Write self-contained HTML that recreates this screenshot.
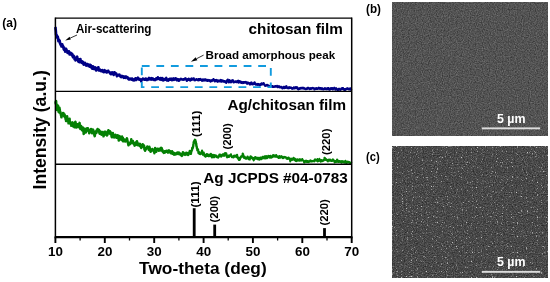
<!DOCTYPE html>
<html lang="en"><head><meta charset="utf-8"><title>XRD and SEM of chitosan films</title>
<style>html,body{margin:0;padding:0;background:#fff;overflow:hidden}svg{display:block}text{font-family:"Liberation Sans", Arial, Helvetica, sans-serif;font-weight:bold}</style></head><body>
<svg width="550" height="282" viewBox="0 0 550 282">
<defs>
<filter id="nb" x="0" y="0" width="100%" height="100%" color-interpolation-filters="sRGB">
<feTurbulence type="fractalNoise" baseFrequency="0.85" numOctaves="2" seed="3" result="t"/>
<feColorMatrix in="t" type="matrix" values="0.33 0 0 0 0.16  0.33 0 0 0 0.16  0.33 0 0 0 0.16  0 0 0 0 1"/>
</filter>
<filter id="nc" x="0" y="0" width="100%" height="100%" color-interpolation-filters="sRGB">
<feTurbulence type="fractalNoise" baseFrequency="0.9" numOctaves="2" seed="11" result="t"/>
<feColorMatrix in="t" type="matrix" values="0.36 0 0 0 0.1  0.36 0 0 0 0.1  0.36 0 0 0 0.1  0 0 0 0 1" result="g"/>
<feTurbulence type="fractalNoise" baseFrequency="0.8" numOctaves="1" seed="29" result="s"/>
<feColorMatrix in="s" type="matrix" values="0 0 0 0 0.78  0 0 0 0 0.78  0 0 0 0 0.78  6.5 0 0 0 -4.15" result="sp"/>
<feComposite in="sp" in2="g" operator="over"/>
</filter>
</defs>
<rect width="550" height="282" fill="#fff"/>
<rect x="392.3" y="2" width="154.9" height="133.2" fill="#555" filter="url(#nb)"/>
<rect x="392.3" y="146" width="154.9" height="131.2" fill="#444" filter="url(#nc)"/>
<rect x="481.8" y="127.4" width="58.4" height="1.9" fill="#dcdcdc"/>
<rect x="481.8" y="270.9" width="58.5" height="1.9" fill="#dcdcdc"/>
<text x="497" y="123.2" font-size="12.6" fill="#fff" textLength="28.6" lengthAdjust="spacingAndGlyphs">5 µm</text>
<text x="497" y="266.1" font-size="12.6" fill="#fff" textLength="28.6" lengthAdjust="spacingAndGlyphs">5 µm</text>
<text x="366" y="12.5" font-size="13.2" textLength="14.9" lengthAdjust="spacingAndGlyphs">(b)</text>
<text x="366" y="161" font-size="13.5" textLength="13.7" lengthAdjust="spacingAndGlyphs">(c)</text>
<text x="2.3" y="27.4" font-size="13.1" textLength="14.7" lengthAdjust="spacingAndGlyphs">(a)</text>
<path d="M55.40 27.0L55.57 28.8L55.73 30.2L55.90 32.1L56.07 34.6L56.23 35.2L56.40 36.1L56.57 35.1L56.73 36.8L56.90 35.4L57.07 36.0L57.23 37.7L57.40 37.9L57.57 37.5L57.73 36.7L57.90 37.8L58.07 38.1L58.23 39.5L58.40 41.1L58.57 40.2L58.73 39.9L58.90 39.8L59.07 40.7L59.23 40.7L59.40 40.2L59.57 41.2L59.73 40.8L59.90 42.8L60.07 43.3L60.23 43.8L60.40 43.3L60.57 44.5L60.73 44.7L60.90 45.1L61.07 45.6L61.23 45.6L61.40 45.2L61.57 46.5L61.73 45.6L61.90 45.6L62.07 45.9L62.23 44.3L62.40 45.1L62.57 45.9L62.73 46.2L62.90 45.9L63.07 47.3L63.23 47.3L63.40 46.8L63.57 47.5L63.73 49.1L63.90 49.0L64.07 47.7L64.23 49.9L64.40 49.6L64.57 50.3L64.73 49.3L64.90 49.5L65.07 49.1L65.23 51.6L65.40 50.0L65.57 51.0L65.73 49.6L65.90 50.0L66.07 48.8L66.23 49.5L66.40 50.8L66.57 49.8L66.73 51.6L66.90 51.6L67.07 51.1L67.23 51.8L67.40 52.2L67.57 52.8L67.73 52.8L67.90 53.0L68.07 53.0L68.23 52.3L68.40 51.8L68.57 52.2L68.73 52.5L68.90 51.4L69.07 52.7L69.23 52.7L69.40 52.9L69.57 54.3L69.73 53.3L69.90 54.4L70.07 52.8L70.23 53.3L70.40 52.8L70.57 52.8L70.73 53.9L70.90 53.7L71.07 54.4L71.23 54.3L71.40 53.7L71.57 54.3L71.73 54.5L71.90 55.0L72.07 53.9L72.23 54.9L72.40 54.4L72.57 56.4L72.73 55.8L72.90 55.9L73.07 56.8L73.23 57.4L73.40 55.7L73.57 55.9L73.73 56.0L73.90 56.2L74.07 57.6L74.23 57.4L74.40 57.9L74.57 59.1L74.73 58.4L74.90 59.2L75.07 58.5L75.23 58.4L75.40 58.1L75.57 60.3L75.73 59.1L75.90 59.4L76.07 59.3L76.23 59.5L76.40 59.0L76.57 59.7L76.73 57.5L76.90 56.8L77.07 56.7L77.23 57.1L77.40 58.8L77.57 59.4L77.73 58.9L77.90 59.2L78.07 60.0L78.23 61.2L78.40 59.0L78.57 61.1L78.73 60.4L78.90 61.7L79.07 60.7L79.23 61.2L79.40 60.7L79.57 61.1L79.73 62.2L79.90 61.6L80.07 60.6L80.23 60.1L80.40 59.2L80.57 60.4L80.73 60.9L80.90 61.2L81.07 61.5L81.23 61.2L81.40 61.8L81.57 61.8L81.73 62.5L81.90 62.8L82.07 61.7L82.23 61.4L82.40 61.9L82.57 61.7L82.73 61.8L82.90 62.3L83.07 62.2L83.23 63.6L83.40 63.7L83.57 64.3L83.73 64.6L83.90 64.0L84.07 63.5L84.23 63.6L84.40 63.1L84.57 63.2L84.73 63.3L84.90 62.8L85.07 63.8L85.23 63.3L85.40 63.9L85.57 64.4L85.73 63.7L85.90 65.1L86.07 65.4L86.23 65.5L86.40 65.1L86.57 64.9L86.73 64.4L86.90 64.5L87.07 64.1L87.23 64.6L87.40 64.1L87.57 65.0L87.73 65.2L87.90 65.2L88.07 65.1L88.23 65.8L88.40 64.7L88.57 66.0L88.73 66.0L88.90 66.0L89.07 66.2L89.23 65.7L89.40 65.9L89.57 66.5L89.73 66.2L89.90 65.9L90.07 64.8L90.23 65.7L90.40 65.8L90.57 66.0L90.73 66.0L90.90 65.4L91.07 67.0L91.23 66.8L91.40 65.8L91.57 67.7L91.73 67.0L91.90 67.4L92.07 68.1L92.23 68.6L92.40 67.2L92.57 67.1L92.73 67.3L92.90 66.7L93.07 66.4L93.23 66.8L93.40 66.9L93.57 67.7L93.73 68.8L93.90 68.7L94.07 68.5L94.23 68.8L94.40 67.8L94.57 68.1L94.73 68.4L94.90 68.3L95.07 68.4L95.23 68.0L95.40 67.5L95.57 68.4L95.73 68.3L95.90 68.6L96.07 70.3L96.23 70.5L96.40 70.5L96.57 69.3L96.73 69.8L96.90 69.5L97.07 69.1L97.23 68.1L97.40 68.8L97.57 69.0L97.73 68.5L97.90 67.6L98.07 68.2L98.23 68.9L98.40 67.4L98.57 69.0L98.73 69.7L98.90 69.9L99.07 70.5L99.23 70.4L99.40 70.1L99.57 70.3L99.73 70.4L99.90 69.7L100.07 69.8" fill="none" stroke="#000086" stroke-width="2.70" stroke-linejoin="round"/>
<path d="M99.90 69.7L100.07 69.8L100.23 70.2L100.40 70.6L100.57 69.8L100.73 70.0L100.90 70.4L101.07 71.1L101.23 70.7L101.40 71.3L101.57 70.1L101.73 70.3L101.90 70.2L102.07 70.6L102.23 70.9L102.40 69.9L102.57 70.4L102.73 71.2L102.90 70.9L103.07 70.6L103.23 72.1L103.40 72.0L103.57 72.2L103.73 71.9L103.90 72.3L104.07 71.4L104.23 71.7L104.40 70.4L104.57 70.1L104.73 70.8L104.90 70.6L105.07 71.4L105.23 71.4L105.40 71.1L105.57 71.5L105.73 71.2L105.90 71.8L106.07 71.0L106.23 71.0L106.40 71.9L106.57 72.6L106.73 72.6L106.90 71.8L107.07 72.1L107.23 72.5L107.40 71.5L107.57 70.9L107.73 71.3L107.90 71.2L108.07 70.8L108.23 70.6L108.40 70.8L108.57 72.0L108.73 71.5L108.90 71.9L109.07 72.2L109.23 72.5L109.40 72.1L109.57 72.6L109.73 72.2L109.90 72.7L110.07 72.7L110.23 73.9L110.40 73.6L110.57 73.4L110.73 73.6L110.90 73.8L111.07 74.3L111.23 73.3L111.40 73.2L111.57 73.1L111.73 74.1L111.90 73.0L112.07 72.1L112.23 72.6L112.40 73.4L112.57 72.5L112.73 72.5L112.90 73.4L113.07 73.4L113.23 73.7L113.40 73.5L113.57 74.9L113.73 75.1L113.90 74.2L114.07 73.8L114.23 72.2L114.40 73.0L114.57 72.2L114.73 72.8L114.90 73.2L115.07 73.1L115.23 72.8L115.40 74.0L115.57 73.6L115.73 73.9L115.90 73.9L116.07 74.1L116.23 73.4L116.40 75.2L116.57 75.1L116.73 75.7L116.90 76.4L117.07 75.8L117.23 75.0L117.40 75.3L117.57 75.1L117.73 75.4L117.90 75.6L118.07 74.6L118.23 75.5L118.40 74.6L118.57 75.2L118.73 74.9L118.90 74.9L119.07 75.0L119.23 74.9L119.40 74.9L119.57 74.5L119.73 75.3L119.90 76.2L120.07 76.3L120.23 76.1L120.40 75.9L120.57 75.7L120.73 77.0L120.90 76.6L121.07 77.0L121.23 77.3L121.40 77.2L121.57 76.7L121.73 76.5L121.90 75.8L122.07 75.9L122.23 77.1L122.40 76.2L122.57 76.2L122.73 76.6L122.90 76.8L123.07 76.1L123.23 76.7L123.40 77.3L123.57 77.2L123.73 77.3L123.90 77.9L124.07 77.0L124.23 77.3L124.40 77.0L124.57 77.8L124.73 76.4L124.90 77.0L125.07 77.1L125.23 77.6L125.40 77.6L125.57 77.9L125.73 76.5L125.90 77.4L126.07 76.9L126.23 76.6L126.40 77.3L126.57 77.0L126.73 76.7L126.90 77.6L127.07 77.4L127.23 77.7L127.40 78.1L127.57 78.1L127.73 78.6L127.90 77.8L128.07 77.5L128.23 78.2L128.40 78.4L128.57 78.6L128.73 79.6L128.90 79.1L129.07 78.5L129.23 79.5L129.40 79.2L129.57 79.3L129.73 79.1L129.90 79.3L130.07 78.9L130.23 79.4L130.40 79.0L130.57 79.1L130.73 79.2L130.90 78.6L131.07 79.3L131.23 79.4L131.40 79.5L131.57 78.7L131.73 79.8L131.90 79.1L132.07 78.4L132.23 78.4L132.40 79.3L132.57 79.6L132.73 79.6L132.90 80.2L133.07 79.7L133.23 80.1L133.40 79.4L133.57 79.6L133.73 79.8L133.90 80.6L134.07 79.3L134.23 79.6L134.40 79.5L134.57 80.3L134.73 79.3L134.90 79.2L135.07 79.2L135.23 78.5L135.40 78.2L135.57 78.7L135.73 78.3L135.90 78.8L136.07 79.5L136.23 80.0L136.40 79.5L136.57 78.6L136.73 78.8L136.90 79.0L137.07 78.6L137.23 78.2L137.40 77.9L137.57 78.4L137.73 77.9L137.90 77.6L138.07 78.0L138.23 79.1L138.40 78.9L138.57 79.5L138.73 79.1L138.90 79.6L139.07 78.9L139.23 78.9L139.40 79.9L139.57 79.1L139.73 78.8L139.90 79.1L140.07 79.4L140.23 79.9L140.40 79.4L140.57 79.2L140.73 80.0L140.90 80.5L141.07 80.8L141.23 81.6L141.40 80.7L141.57 80.4L141.73 79.2L141.90 79.5L142.07 79.5L142.23 79.0L142.40 78.8L142.57 78.8L142.73 79.5L142.90 78.4L143.07 78.9L143.23 79.2L143.40 79.4L143.57 79.1L143.73 79.5L143.90 79.3L144.07 79.5L144.23 79.4L144.40 79.0L144.57 79.5L144.73 79.7L144.90 78.9L145.07 79.1L145.23 79.3L145.40 78.6L145.57 79.0L145.73 78.5L145.90 79.4L146.07 79.8L146.23 79.7L146.40 79.0L146.57 79.5L146.73 79.4L146.90 79.5L147.07 80.2L147.23 79.0L147.40 79.9L147.57 79.5L147.73 80.0L147.90 79.5L148.07 79.0L148.23 79.1L148.40 79.0L148.57 78.6L148.73 78.5L148.90 78.3L149.07 77.8L149.23 79.1L149.40 79.2L149.57 79.1L149.73 79.1L149.90 79.5L150.07 78.9L150.23 78.8L150.40 79.1L150.57 79.4L150.73 78.3L150.90 79.1L151.07 78.3L151.23 78.0L151.40 79.0L151.57 78.7L151.73 78.5L151.90 79.0L152.07 79.7L152.23 79.6L152.40 78.9L152.57 79.0L152.73 79.0L152.90 78.3L153.07 79.0L153.23 79.1L153.40 79.2L153.57 79.5L153.73 79.9L153.90 79.8L154.07 79.5L154.23 79.4L154.40 79.9L154.57 79.5L154.73 79.7L154.90 79.8L155.07 79.6L155.23 80.2L155.40 79.0L155.57 79.5L155.73 79.0L155.90 79.7L156.07 79.6L156.23 78.1L156.40 78.6L156.57 79.3L156.73 79.4L156.90 79.4L157.07 79.2L157.23 79.1L157.40 78.9L157.57 78.4L157.73 78.6L157.90 77.1L158.07 78.3L158.23 77.8L158.40 78.7L158.57 78.3L158.73 78.2L158.90 78.9L159.07 78.7L159.23 78.9L159.40 78.8L159.57 79.6L159.73 79.5L159.90 79.3L160.07 78.5L160.23 78.6L160.40 77.9L160.57 78.3L160.73 78.9L160.90 79.5L161.07 79.4L161.23 79.9L161.40 79.6L161.57 79.3L161.73 78.6L161.90 78.9L162.07 78.0L162.23 78.7L162.40 78.6L162.57 79.4L162.73 79.7L162.90 79.8L163.07 80.5L163.23 79.6L163.40 79.9L163.57 79.4L163.73 78.6L163.90 78.9L164.07 79.4L164.23 79.5L164.40 79.8L164.57 79.9L164.73 79.2L164.90 79.7L165.07 78.9L165.23 79.7L165.40 79.3L165.57 79.0L165.73 79.0L165.90 78.9L166.07 78.1L166.23 77.8L166.40 78.4L166.57 78.4L166.73 79.2L166.90 80.5L167.07 79.9L167.23 80.6L167.40 79.9L167.57 80.5L167.73 80.3L167.90 80.4L168.07 80.4L168.23 80.7L168.40 79.9L168.57 79.7L168.73 79.1L168.90 79.6L169.07 79.3L169.23 79.6L169.40 79.3L169.57 79.9L169.73 78.6L169.90 79.2L170.07 79.6L170.23 79.2L170.40 79.1L170.57 79.2L170.73 78.7L170.90 79.1L171.07 79.8L171.23 79.2L171.40 78.7L171.57 79.1L171.73 79.5L171.90 80.3L172.07 79.9L172.23 79.8L172.40 80.1L172.57 79.9L172.73 79.2L172.90 78.7L173.07 78.6L173.23 79.0L173.40 78.5L173.57 79.7L173.73 79.2L173.90 79.5L174.07 79.9L174.23 79.6L174.40 78.7L174.57 79.3L174.73 79.4L174.90 78.8L175.07 78.7L175.23 79.0L175.40 78.5L175.57 79.5L175.73 78.1L175.90 78.4L176.07 78.6L176.23 78.6L176.40 79.1L176.57 79.4L176.73 79.6L176.90 80.4L177.07 79.6L177.23 80.2L177.40 79.7L177.57 79.8L177.73 79.7L177.90 79.1L178.07 79.3L178.23 80.0L178.40 80.0L178.57 79.8L178.73 80.9L178.90 80.8L179.07 79.4L179.23 79.9L179.40 80.5L179.57 79.8L179.73 79.5L179.90 79.3L180.07 79.1" fill="none" stroke="#000086" stroke-width="2.40" stroke-linejoin="round"/>
<path d="M179.90 79.3L180.07 79.1L180.23 79.1L180.40 78.9L180.57 79.4L180.73 79.0L180.90 79.1L181.07 78.9L181.23 79.3L181.40 79.0L181.57 79.2L181.73 79.6L181.90 79.3L182.07 79.4L182.23 79.4L182.40 79.4L182.57 79.4L182.73 79.4L182.90 79.8L183.07 79.1L183.23 79.9L183.40 79.4L183.57 79.1L183.73 79.1L183.90 79.1L184.07 79.4L184.23 79.1L184.40 79.7L184.57 79.1L184.73 78.5L184.90 78.8L185.07 78.3L185.23 78.8L185.40 79.0L185.57 79.0L185.73 78.4L185.90 78.6L186.07 79.6L186.23 79.2L186.40 79.4L186.57 80.0L186.73 80.8L186.90 80.8L187.07 80.7L187.23 80.5L187.40 80.3L187.57 79.5L187.73 79.1L187.90 79.2L188.07 78.8L188.23 79.0L188.40 79.0L188.57 79.8L188.73 78.6L188.90 79.1L189.07 79.2L189.23 79.6L189.40 80.0L189.57 79.7L189.73 79.7L189.90 79.6L190.07 79.9L190.23 80.6L190.40 80.5L190.57 79.8L190.73 79.7L190.90 79.4L191.07 79.2L191.23 78.5L191.40 78.8L191.57 78.4L191.73 78.8L191.90 79.9L192.07 78.8L192.23 79.4L192.40 79.5L192.57 79.3L192.73 79.1L192.90 79.3L193.07 79.1L193.23 79.0L193.40 78.3L193.57 78.7L193.73 78.3L193.90 78.7L194.07 79.3L194.23 79.8L194.40 80.2L194.57 80.0L194.73 80.4L194.90 80.4L195.07 80.3L195.23 80.3L195.40 79.7L195.57 79.7L195.73 80.1L195.90 79.4L196.07 79.9L196.23 79.7L196.40 79.6L196.57 79.1L196.73 79.3L196.90 79.4L197.07 79.6L197.23 79.8L197.40 79.6L197.57 79.8L197.73 79.7L197.90 80.3L198.07 79.9L198.23 80.1L198.40 80.4L198.57 79.6L198.73 79.0L198.90 79.3L199.07 79.2L199.23 79.3L199.40 80.2L199.57 79.9L199.73 79.2L199.90 79.8L200.07 79.9L200.23 79.2L200.40 79.0L200.57 79.1L200.73 79.3L200.90 79.4L201.07 79.6L201.23 79.6L201.40 79.9L201.57 80.3L201.73 80.4L201.90 80.0L202.07 80.8L202.23 80.7L202.40 80.2L202.57 80.4L202.73 79.8L202.90 79.4L203.07 80.3L203.23 80.1L203.40 80.1L203.57 80.4L203.73 80.6L203.90 80.3L204.07 79.4L204.23 79.9L204.40 79.9L204.57 79.7L204.73 80.1L204.90 80.3L205.07 79.8L205.23 79.5L205.40 80.5L205.57 79.7L205.73 79.4L205.90 79.9L206.07 79.9L206.23 79.6L206.40 80.2L206.57 79.9L206.73 79.9L206.90 80.4L207.07 80.8L207.23 80.2L207.40 80.4L207.57 80.2L207.73 81.0L207.90 79.8L208.07 80.5L208.23 80.0L208.40 80.0L208.57 80.3L208.73 80.4L208.90 80.5L209.07 80.3L209.23 80.0L209.40 80.0L209.57 80.4L209.73 80.6L209.90 81.0L210.07 80.8L210.23 81.2L210.40 81.5L210.57 81.0L210.73 80.4L210.90 80.4L211.07 80.3L211.23 81.2L211.40 80.4L211.57 81.0L211.73 80.8L211.90 81.1L212.07 80.9L212.23 80.4L212.40 80.3L212.57 80.2L212.73 80.2L212.90 79.8L213.07 79.9L213.23 80.3L213.40 79.2L213.57 79.7L213.73 79.2L213.90 79.9L214.07 80.4L214.23 80.4L214.40 80.9L214.57 80.5L214.73 81.3L214.90 80.8L215.07 81.2L215.23 81.0L215.40 80.2L215.57 80.6L215.73 80.8L215.90 81.1L216.07 80.6L216.23 80.4L216.40 80.0L216.57 81.0L216.73 81.2L216.90 80.7L217.07 80.7L217.23 80.3L217.40 81.2L217.57 81.8L217.73 81.2L217.90 81.4L218.07 81.2L218.23 80.7L218.40 81.5L218.57 80.7L218.73 81.0L218.90 81.2L219.07 81.4L219.23 81.3L219.40 81.3L219.57 80.9L219.73 80.6L219.90 80.9L220.07 80.5L220.23 80.2L220.40 80.0L220.57 80.5L220.73 80.3L220.90 80.7L221.07 80.9L221.23 81.7L221.40 81.5L221.57 81.7L221.73 80.2L221.90 80.2L222.07 80.4L222.23 80.3L222.40 80.5L222.57 81.4L222.73 81.0L222.90 81.0L223.07 81.0L223.23 81.5L223.40 81.4L223.57 80.9L223.73 81.0L223.90 81.5L224.07 81.6L224.23 81.2L224.40 81.7L224.57 81.7L224.73 81.1L224.90 81.7L225.07 82.1L225.23 81.9L225.40 81.6L225.57 82.1L225.73 82.4L225.90 82.6L226.07 81.4L226.23 82.9L226.40 81.4L226.57 81.8L226.73 81.5L226.90 81.2L227.07 80.6L227.23 80.1L227.40 80.7L227.57 80.2L227.73 79.6L227.90 81.2L228.07 80.8L228.23 81.5L228.40 81.0L228.57 82.0L228.73 82.4L228.90 82.1L229.07 81.4L229.23 80.9L229.40 81.0L229.57 80.2L229.73 80.4L229.90 81.1L230.07 80.9L230.23 81.3L230.40 81.5L230.57 82.2L230.73 82.1L230.90 81.8L231.07 82.3L231.23 81.8L231.40 81.7L231.57 81.8L231.73 80.9L231.90 80.9L232.07 80.3L232.23 80.7L232.40 81.1L232.57 80.3L232.73 80.6L232.90 80.2L233.07 80.4L233.23 80.7L233.40 81.8L233.57 82.4L233.73 82.1L233.90 81.7L234.07 82.1L234.23 81.8L234.40 82.1L234.57 82.0L234.73 81.9L234.90 82.0L235.07 81.6L235.23 81.7L235.40 81.3L235.57 81.7L235.73 81.4L235.90 81.9L236.07 81.7L236.23 82.0L236.40 82.1L236.57 81.4L236.73 81.5L236.90 81.4L237.07 81.8L237.23 82.0L237.40 81.7L237.57 81.3L237.73 81.8L237.90 80.8L238.07 81.9L238.23 81.4L238.40 80.9L238.57 82.7L238.73 82.6L238.90 81.7L239.07 82.0L239.23 81.8L239.40 81.8L239.57 81.2L239.73 81.4L239.90 81.7L240.07 81.6L240.23 81.8L240.40 81.4L240.57 82.4L240.73 81.7L240.90 82.2L241.07 81.8L241.23 82.3L241.40 83.0L241.57 82.3L241.73 82.7L241.90 82.5L242.07 82.1L242.23 82.4L242.40 82.4L242.57 82.5L242.73 82.9L242.90 83.0L243.07 82.5L243.23 82.2L243.40 82.4L243.57 82.2L243.73 82.3L243.90 82.9L244.07 82.4L244.23 82.2L244.40 82.2L244.57 82.0L244.73 82.0L244.90 82.0L245.07 82.1L245.23 82.1L245.40 82.4L245.57 82.1L245.73 82.2L245.90 81.9L246.07 82.8L246.23 82.5L246.40 83.0L246.57 82.9L246.73 83.2L246.90 82.8L247.07 83.3L247.23 83.8L247.40 82.5L247.57 83.1L247.73 83.2L247.90 82.7L248.07 83.0L248.23 83.3L248.40 82.8L248.57 83.3L248.73 83.1L248.90 83.2L249.07 83.2L249.23 83.4L249.40 83.5L249.57 83.6L249.73 83.2L249.90 84.5L250.07 84.4L250.23 84.5L250.40 84.4L250.57 84.1L250.73 83.9L250.90 83.5L251.07 82.5L251.23 82.9L251.40 83.8L251.57 82.7L251.73 83.8L251.90 83.9L252.07 84.0L252.23 84.4L252.40 83.5L252.57 83.9L252.73 84.2L252.90 83.6L253.07 83.5L253.23 83.7L253.40 83.6L253.57 84.2L253.73 83.5L253.90 83.9L254.07 83.1L254.23 83.6L254.40 83.2L254.57 82.3L254.73 83.2L254.90 83.0L255.07 83.3L255.23 84.1L255.40 83.4L255.57 83.6L255.73 84.5L255.90 84.2L256.07 84.8L256.23 84.6L256.40 84.2L256.57 84.4L256.73 84.7L256.90 84.5L257.07 84.2L257.23 84.2L257.40 84.2L257.57 84.1L257.73 84.9L257.90 84.4L258.07 84.0L258.23 84.2L258.40 84.5L258.57 84.5L258.73 84.2L258.90 84.2L259.07 84.6L259.23 84.3L259.40 84.6L259.57 85.4L259.73 84.9L259.90 85.1L260.07 85.2L260.23 85.0L260.40 84.7L260.57 85.1L260.73 84.4L260.90 83.9L261.07 84.0L261.23 83.7L261.40 83.5L261.57 83.9L261.73 84.1L261.90 83.7L262.07 84.5" fill="none" stroke="#000086" stroke-width="2.20" stroke-linejoin="round"/>
<path d="M261.90 83.7L262.07 84.5L262.23 84.3L262.40 84.1L262.57 83.6L262.73 83.9L262.90 83.9L263.07 83.8L263.23 83.3L263.40 83.7L263.57 83.1L263.73 83.2L263.90 84.0L264.07 83.8L264.23 84.2L264.40 85.0L264.57 84.9L264.73 85.1L264.90 85.5L265.07 86.0L265.23 85.2L265.40 85.9L265.57 85.7L265.73 85.6L265.90 85.5L266.07 85.4L266.23 85.6L266.40 85.2L266.57 85.4L266.73 85.3L266.90 84.9L267.07 85.0L267.23 85.5L267.40 85.2L267.57 84.9L267.73 85.2L267.90 85.0L268.07 85.6L268.23 86.0L268.40 85.8L268.57 86.2L268.73 86.9L268.90 86.3L269.07 86.4L269.23 86.0L269.40 85.9L269.57 86.0L269.73 86.8L269.90 86.0L270.07 86.0L270.23 86.0L270.40 86.1L270.57 86.4L270.73 86.2L270.90 86.8L271.07 86.3L271.23 86.6L271.40 86.3L271.57 86.5L271.73 85.9L271.90 86.3L272.07 86.4L272.23 86.4L272.40 86.0L272.57 86.9L272.73 86.7L272.90 86.8L273.07 86.8L273.23 86.8L273.40 87.0L273.57 86.5L273.73 86.6L273.90 86.9L274.07 86.8L274.23 86.7L274.40 86.6L274.57 86.5L274.73 86.6L274.90 86.8L275.07 86.0L275.23 86.7L275.40 86.4L275.57 86.2L275.73 86.7L275.90 86.2L276.07 86.4L276.23 86.7L276.40 86.8L276.57 86.7L276.73 86.5L276.90 86.6L277.07 85.8L277.23 86.8L277.40 86.5L277.57 86.9L277.73 87.2L277.90 87.2L278.07 86.9L278.23 86.7L278.40 86.8L278.57 86.7L278.73 86.4L278.90 86.1L279.07 86.3L279.23 86.4L279.40 87.0L279.57 86.4L279.73 87.4L279.90 86.9L280.07 86.8L280.23 87.2L280.40 87.4L280.57 87.1L280.73 87.2L280.90 86.8L281.07 87.0L281.23 86.8L281.40 86.8L281.57 87.6L281.73 87.6L281.90 87.9L282.07 88.0L282.23 88.1L282.40 88.4L282.57 87.8L282.73 88.4L282.90 88.3L283.07 88.0L283.23 87.1L283.40 87.5L283.57 87.5L283.73 86.9L283.90 87.3L284.07 86.8L284.23 87.8L284.40 87.6L284.57 88.2L284.73 87.4L284.90 88.1L285.07 87.8L285.23 88.0L285.40 87.5L285.57 87.3L285.73 87.8L285.90 86.6L286.07 86.3L286.23 86.1L286.40 86.2L286.57 87.2L286.73 87.7L286.90 87.3L287.07 87.3L287.23 88.1L287.40 88.1L287.57 88.0L287.73 88.1L287.90 87.5L288.07 87.7L288.23 87.4L288.40 87.4L288.57 88.1L288.73 87.6L288.90 88.4L289.07 87.6L289.23 87.3L289.40 87.6L289.57 87.8L289.73 87.5L289.90 87.1L290.07 87.6L290.23 88.0L290.40 87.6L290.57 87.5L290.73 88.0L290.90 87.8L291.07 87.5L291.23 87.7L291.40 87.7L291.57 88.2L291.73 88.3L291.90 88.7L292.07 88.8L292.23 88.0L292.40 88.5L292.57 88.6L292.73 88.3L292.90 88.4L293.07 87.9L293.23 87.8L293.40 88.3L293.57 87.7L293.73 87.3L293.90 88.4L294.07 88.1L294.23 88.4L294.40 88.2L294.57 88.4L294.73 88.3L294.90 88.3L295.07 88.3L295.23 87.3L295.40 87.9L295.57 87.4L295.73 87.4L295.90 88.0L296.07 87.8L296.23 87.4L296.40 88.2L296.57 87.3L296.73 87.4L296.90 87.3L297.07 87.5L297.23 87.3L297.40 88.1L297.57 88.0L297.73 88.9L297.90 88.7L298.07 88.8L298.23 89.4L298.40 88.8L298.57 88.7L298.73 89.3L298.90 88.7L299.07 88.4L299.23 88.8L299.40 88.3L299.57 88.9L299.73 88.9L299.90 88.4L300.07 88.4L300.23 88.6L300.40 88.5L300.57 88.2L300.73 88.6L300.90 87.7L301.07 88.2L301.23 88.1L301.40 88.2L301.57 88.3L301.73 87.9L301.90 88.5L302.07 88.3L302.23 88.1L302.40 87.8L302.57 87.8L302.73 88.2L302.90 87.8L303.07 88.1L303.23 88.4L303.40 88.4L303.57 88.6L303.73 88.0L303.90 87.8L304.07 88.5L304.23 88.3L304.40 88.6L304.57 88.3L304.73 88.8L304.90 88.9L305.07 89.0L305.23 89.1L305.40 89.2L305.57 89.1L305.73 89.0L305.90 89.1L306.07 88.6L306.23 89.1L306.40 88.5L306.57 88.8L306.73 88.4L306.90 88.3L307.07 88.9L307.23 88.2L307.40 87.8L307.57 87.9L307.73 88.0L307.90 88.6L308.07 88.1L308.23 88.3L308.40 87.7L308.57 88.1L308.73 88.2L308.90 88.8L309.07 88.3L309.23 88.9L309.40 89.1L309.57 89.0L309.73 89.1L309.90 89.0L310.07 88.3L310.23 89.0L310.40 88.8L310.57 88.5L310.73 88.2L310.90 89.0L311.07 88.6L311.23 88.8L311.40 88.8L311.57 88.2L311.73 88.6L311.90 88.2L312.07 88.3L312.23 88.2L312.40 88.1L312.57 88.4L312.73 88.0L312.90 87.8L313.07 87.9L313.23 88.2L313.40 88.0L313.57 88.2L313.73 88.5L313.90 88.4L314.07 88.7L314.23 88.6L314.40 89.5L314.57 89.4L314.73 89.0L314.90 88.7L315.07 89.2L315.23 88.6L315.40 88.3L315.57 88.4L315.73 88.5L315.90 88.8L316.07 88.4L316.23 89.0L316.40 88.2L316.57 88.7L316.73 88.2L316.90 89.0L317.07 88.4L317.23 88.5L317.40 88.8L317.57 88.9L317.73 88.3L317.90 88.6L318.07 88.1L318.23 88.3L318.40 88.1L318.57 87.8L318.73 87.6L318.90 87.8L319.07 87.8L319.23 88.4L319.40 88.8L319.57 88.0L319.73 88.4L319.90 88.3L320.07 88.5L320.23 88.0L320.40 88.1L320.57 88.1L320.73 88.8L320.90 88.8L321.07 88.9L321.23 89.2L321.40 88.9L321.57 88.3L321.73 88.8L321.90 88.5L322.07 88.2L322.23 88.7L322.40 88.9L322.57 88.4L322.73 88.6L322.90 89.4L323.07 89.5L323.23 89.0L323.40 89.0L323.57 89.2L323.73 89.4L323.90 88.9L324.07 89.1L324.23 88.6L324.40 88.4L324.57 88.8L324.73 88.3L324.90 88.5L325.07 88.6L325.23 88.7L325.40 88.3L325.57 88.5L325.73 88.3L325.90 89.2L326.07 88.9L326.23 88.5L326.40 88.8L326.57 89.0L326.73 88.9L326.90 89.3L327.07 89.1L327.23 88.5L327.40 88.5L327.57 88.1L327.73 88.4L327.90 88.3L328.07 89.1L328.23 88.6L328.40 88.1L328.57 88.7L328.73 89.0L328.90 88.8L329.07 89.1L329.23 89.4L329.40 89.8L329.57 89.8L329.73 89.4L329.90 89.6L330.07 89.0L330.23 88.8L330.40 88.3L330.57 88.4L330.73 88.9L330.90 88.2L331.07 88.7L331.23 88.9L331.40 88.5L331.57 88.6L331.73 88.1L331.90 88.7L332.07 88.6L332.23 88.5L332.40 88.1L332.57 88.4L332.73 89.1L332.90 89.5L333.07 88.9L333.23 89.0L333.40 88.3L333.57 88.3L333.73 88.2L333.90 88.3L334.07 87.8L334.23 88.5L334.40 88.6L334.57 87.9L334.73 88.1L334.90 88.9L335.07 88.8L335.23 88.6L335.40 89.8L335.57 89.4L335.73 89.0L335.90 89.5L336.07 88.7L336.23 88.2L336.40 88.6L336.57 88.5L336.73 88.8L336.90 89.4L337.07 89.3L337.23 89.4L337.40 90.0L337.57 89.9L337.73 89.9L337.90 89.9L338.07 89.7L338.23 89.9L338.40 89.3L338.57 89.7L338.73 88.8L338.90 89.0L339.07 88.7L339.23 89.1L339.40 89.3L339.57 89.6L339.73 89.2L339.90 89.5L340.07 89.6L340.23 89.6L340.40 89.7L340.57 89.8L340.73 89.0L340.90 89.3L341.07 89.1L341.23 88.7L341.40 88.5L341.57 88.4L341.73 89.2L341.90 88.3L342.07 89.1L342.23 88.7L342.40 88.4L342.57 88.1L342.73 88.6L342.90 88.7L343.07 88.1L343.23 88.5L343.40 89.0L343.57 88.9L343.73 89.6L343.90 89.0L344.07 89.5L344.23 89.1L344.40 90.2L344.57 89.6L344.73 89.1L344.90 89.6L345.07 89.6L345.23 90.1L345.40 89.4L345.57 89.3L345.73 89.3L345.90 89.4L346.07 88.7L346.23 88.8L346.40 88.7L346.57 88.5L346.73 88.6L346.90 88.6L347.07 88.3L347.23 89.0L347.40 88.3L347.57 89.0L347.73 89.0L347.90 88.7L348.07 88.6L348.23 88.9L348.40 89.2L348.57 89.3L348.73 89.3L348.90 89.4L349.07 89.0L349.23 89.1L349.40 88.6L349.57 89.2L349.73 89.0L349.90 88.9L350.07 89.4L350.23 89.3L350.40 88.4L350.57 89.2L350.73 88.8L350.90 89.5L351.07 89.9L351.23 89.1L351.40 89.2L351.57 89.0" fill="none" stroke="#000086" stroke-width="2.10" stroke-linejoin="round"/>
<path d="M55.40 101.6L55.57 101.5L55.73 103.3L55.90 102.6L56.07 101.1L56.23 105.3L56.40 104.8L56.57 104.2L56.73 106.0L56.90 106.0L57.07 109.9L57.23 107.8L57.40 105.2L57.57 107.0L57.73 105.6L57.90 107.6L58.07 106.0L58.23 106.2L58.40 110.1L58.57 111.0L58.73 112.2L58.90 109.7L59.07 111.5L59.23 112.1L59.40 107.7L59.57 110.1L59.73 109.0L59.90 112.7L60.07 111.4L60.23 111.5L60.40 113.5L60.57 113.5L60.73 112.9L60.90 114.8L61.07 114.1L61.23 113.4L61.40 117.3L61.57 114.9L61.73 114.7L61.90 115.7L62.07 113.8L62.23 113.6L62.40 114.0L62.57 113.6L62.73 113.7L62.90 114.3L63.07 113.0L63.23 114.3L63.40 114.7L63.57 113.3L63.73 114.8L63.90 114.0L64.07 116.2L64.23 115.9L64.40 115.7L64.57 114.6L64.73 116.3L64.90 115.7L65.07 117.5L65.23 117.0L65.40 116.6L65.57 118.9L65.73 119.3L65.90 118.6L66.07 120.9L66.23 120.0L66.40 119.2L66.57 118.9L66.73 117.3L66.90 116.8L67.07 116.3L67.23 118.7L67.40 119.4L67.57 118.5L67.73 121.1L67.90 120.3L68.07 120.8L68.23 121.5L68.40 121.1L68.57 123.3L68.73 121.4L68.90 120.1L69.07 122.6L69.23 121.1L69.40 121.3L69.57 118.8L69.73 122.7L69.90 122.6L70.07 122.7L70.23 123.0L70.40 123.7L70.57 122.6L70.73 124.0L70.90 122.9L71.07 123.8L71.23 125.6L71.40 124.7L71.57 122.8L71.73 124.2L71.90 123.4L72.07 122.6L72.23 124.0L72.40 123.5L72.57 122.6L72.73 123.3L72.90 126.3L73.07 123.2L73.23 124.8L73.40 125.2L73.57 125.2L73.73 123.5L73.90 124.9L74.07 125.9L74.23 127.1L74.40 126.3L74.57 126.3L74.73 127.2L74.90 126.1L75.07 124.2L75.23 122.1L75.40 121.8L75.57 122.8L75.73 124.7L75.90 124.0L76.07 126.5L76.23 127.5L76.40 126.2L76.57 127.0L76.73 126.4L76.90 125.6L77.07 125.9L77.23 124.3L77.40 125.6L77.57 126.2L77.73 126.2L77.90 127.0L78.07 124.8L78.23 124.3L78.40 125.8L78.57 125.9L78.73 127.2L78.90 125.7L79.07 124.1L79.23 125.4L79.40 123.7L79.57 122.9L79.73 127.2L79.90 125.8L80.07 126.7L80.23 127.2L80.40 128.9L80.57 127.5L80.73 128.3L80.90 126.3L81.07 125.9L81.23 128.5L81.40 129.0L81.57 128.6L81.73 128.8L81.90 129.3L82.07 129.0L82.23 130.4L82.40 129.0L82.57 128.3L82.73 127.6L82.90 127.6L83.07 128.2L83.23 129.5L83.40 128.8L83.57 131.4L83.73 133.9L83.90 131.2L84.07 131.3L84.23 131.9L84.40 131.6L84.57 131.0L84.73 128.9L84.90 130.7L85.07 129.1L85.23 129.3L85.40 130.4L85.57 129.6L85.73 130.5L85.90 132.4L86.07 130.3L86.23 130.1L86.40 128.8L86.57 129.0L86.73 128.7L86.90 129.2L87.07 128.7L87.23 129.0L87.40 129.4L87.57 128.6L87.73 128.2L87.90 128.2L88.07 130.0L88.23 129.9L88.40 130.9L88.57 131.2L88.73 130.2L88.90 131.3L89.07 129.7L89.23 133.1L89.40 132.4L89.57 131.4L89.73 130.5L89.90 131.8L90.07 129.9L90.23 130.8L90.40 132.0L90.57 131.1L90.73 130.2L90.90 131.1L91.07 129.0L91.23 129.7L91.40 129.5L91.57 129.6L91.73 131.1L91.90 130.3L92.07 133.1L92.23 130.8L92.40 132.8L92.57 130.0L92.73 131.3L92.90 129.6L93.07 129.8L93.23 131.5L93.40 132.2L93.57 131.0L93.73 133.4L93.90 132.3L94.07 133.6L94.23 134.4L94.40 135.2L94.57 133.7L94.73 136.2L94.90 134.9L95.07 133.8L95.23 132.9L95.40 132.0L95.57 132.0L95.73 133.3L95.90 132.3L96.07 131.3L96.23 131.6L96.40 132.9L96.57 131.0L96.73 130.4L96.90 131.6L97.07 130.5L97.23 130.2L97.40 129.8L97.57 129.1L97.73 129.5L97.90 130.1L98.07 130.3L98.23 130.7L98.40 130.8L98.57 130.5L98.73 130.4L98.90 130.2L99.07 130.0L99.23 132.1L99.40 132.6L99.57 133.6L99.73 133.4L99.90 132.2L100.07 131.9L100.23 132.3L100.40 132.0L100.57 131.7L100.73 132.9L100.90 132.6L101.07 132.2L101.23 133.3L101.40 134.6L101.57 132.4L101.73 133.7L101.90 133.7L102.07 133.6L102.23 132.0L102.40 134.5L102.57 133.2L102.73 133.1L102.90 133.4L103.07 134.5L103.23 134.5L103.40 134.7L103.57 136.3L103.73 135.1L103.90 134.2L104.07 135.1L104.23 134.4L104.40 134.1L104.57 131.8L104.73 133.6L104.90 133.3L105.07 134.4L105.23 132.1L105.40 133.4L105.57 132.9L105.73 131.8L105.90 132.3L106.07 133.6L106.23 132.3L106.40 132.6L106.57 134.3L106.73 134.9L106.90 135.4L107.07 134.5L107.23 134.6L107.40 134.8L107.57 133.0L107.73 132.3L107.90 133.0L108.07 133.5L108.23 131.4L108.40 130.3L108.57 131.1L108.73 131.5L108.90 132.1L109.07 132.6L109.23 131.9L109.40 131.5L109.57 132.1L109.73 131.2L109.90 131.9L110.07 131.5" fill="none" stroke="#048004" stroke-width="2.60" stroke-linejoin="round"/>
<path d="M109.90 131.9L110.07 131.5L110.23 134.1L110.40 132.7L110.57 132.0L110.73 132.5L110.90 133.5L111.07 133.2L111.23 134.4L111.40 135.1L111.57 137.0L111.73 136.7L111.90 137.0L112.07 137.3L112.23 136.5L112.40 136.3L112.57 135.3L112.73 135.3L112.90 133.0L113.07 135.0L113.23 135.0L113.40 135.4L113.57 134.6L113.73 135.8L113.90 137.2L114.07 137.6L114.23 136.6L114.40 136.9L114.57 135.9L114.73 135.7L114.90 135.2L115.07 136.1L115.23 135.4L115.40 134.6L115.57 134.9L115.73 135.9L115.90 136.0L116.07 135.5L116.23 137.7L116.40 136.7L116.57 136.7L116.73 137.9L116.90 137.6L117.07 136.9L117.23 137.3L117.40 136.1L117.57 136.3L117.73 135.1L117.90 137.6L118.07 136.1L118.23 138.8L118.40 138.5L118.57 139.2L118.73 140.6L118.90 139.9L119.07 139.2L119.23 139.0L119.40 137.0L119.57 136.4L119.73 136.0L119.90 137.7L120.07 137.9L120.23 138.2L120.40 139.1L120.57 139.2L120.73 139.4L120.90 139.6L121.07 139.0L121.23 138.9L121.40 139.7L121.57 137.8L121.73 138.4L121.90 139.7L122.07 136.5L122.23 138.2L122.40 139.4L122.57 138.0L122.73 141.3L122.90 137.8L123.07 140.9L123.23 141.3L123.40 141.1L123.57 140.5L123.73 141.2L123.90 140.1L124.07 141.2L124.23 139.7L124.40 140.1L124.57 140.9L124.73 139.5L124.90 140.2L125.07 140.7L125.23 139.7L125.40 141.6L125.57 141.2L125.73 140.0L125.90 141.2L126.07 140.8L126.23 141.0L126.40 140.8L126.57 139.6L126.73 140.1L126.90 138.3L127.07 138.8L127.23 139.1L127.40 140.7L127.57 140.7L127.73 141.8L127.90 142.3L128.07 143.8L128.23 144.3L128.40 145.4L128.57 145.1L128.73 144.7L128.90 144.1L129.07 144.2L129.23 143.6L129.40 144.4L129.57 143.7L129.73 142.6L129.90 142.7L130.07 144.2L130.23 143.6L130.40 143.3L130.57 143.7L130.73 142.0L130.90 141.5L131.07 140.8L131.23 139.2L131.40 141.6L131.57 140.6L131.73 141.4L131.90 141.7L132.07 143.1L132.23 142.5L132.40 142.4L132.57 141.1L132.73 142.1L132.90 141.0L133.07 142.4L133.23 142.5L133.40 142.4L133.57 143.9L133.73 143.0L133.90 143.5L134.07 143.7L134.23 143.9L134.40 145.2L134.57 145.7L134.73 143.7L134.90 144.9L135.07 144.2L135.23 144.1L135.40 143.3L135.57 142.4L135.73 142.7L135.90 145.0L136.07 144.1L136.23 143.2L136.40 144.0L136.57 143.2L136.73 141.8L136.90 141.1L137.07 141.2L137.23 142.9L137.40 143.2L137.57 143.6L137.73 144.4L137.90 145.2L138.07 143.5L138.23 144.8L138.40 144.6L138.57 144.4L138.73 145.0L138.90 145.1L139.07 144.9L139.23 144.0L139.40 144.5L139.57 146.0L139.73 144.0L139.90 143.7L140.07 145.0L140.23 145.3L140.40 145.2L140.57 144.9L140.73 147.0L140.90 146.6L141.07 147.0L141.23 148.1L141.40 147.7L141.57 147.5L141.73 146.8L141.90 145.6L142.07 145.5L142.23 145.1L142.40 145.7L142.57 144.3L142.73 144.3L142.90 145.9L143.07 144.6L143.23 145.4L143.40 145.7L143.57 145.6L143.73 145.7L143.90 147.5L144.07 145.5L144.23 148.2L144.40 149.7L144.57 148.8L144.73 149.0L144.90 149.8L145.07 150.8L145.23 149.1L145.40 150.2L145.57 149.6L145.73 149.7L145.90 149.1L146.07 149.0L146.23 147.9L146.40 148.0L146.57 147.4L146.73 147.2L146.90 147.3L147.07 147.1L147.23 146.5L147.40 148.4L147.57 147.4L147.73 146.7L147.90 148.4L148.07 147.7L148.23 148.9L148.40 148.9L148.57 149.5L148.73 149.9L148.90 148.9L149.07 148.9L149.23 149.7L149.40 146.6L149.57 147.6L149.73 148.4L149.90 148.1L150.07 148.5L150.23 151.3L150.40 150.4L150.57 151.9L150.73 151.0L150.90 150.7L151.07 151.0L151.23 151.1L151.40 151.2L151.57 150.4L151.73 150.0L151.90 149.7L152.07 150.1L152.23 150.0L152.40 149.0L152.57 149.4L152.73 150.2L152.90 149.8L153.07 150.0L153.23 149.7L153.40 150.2L153.57 150.7L153.73 151.1L153.90 150.7L154.07 152.2L154.23 151.1L154.40 153.3L154.57 152.2L154.73 151.3L154.90 150.1L155.07 148.0L155.23 149.1L155.40 148.7L155.57 150.3L155.73 148.8L155.90 151.4L156.07 150.6L156.23 151.8L156.40 149.4L156.57 150.7L156.73 150.0L156.90 150.3L157.07 149.6L157.23 148.7L157.40 149.9L157.57 149.7L157.73 149.5L157.90 149.7L158.07 150.0L158.23 149.5L158.40 148.8L158.57 149.0L158.73 150.9L158.90 150.4L159.07 150.0L159.23 149.6L159.40 149.8L159.57 149.7L159.73 149.3L159.90 148.9L160.07 150.5L160.23 149.1L160.40 148.4L160.57 147.9L160.73 148.1L160.90 148.9L161.07 148.8L161.23 148.0L161.40 148.4L161.57 148.3L161.73 148.0L161.90 149.6L162.07 149.3L162.23 151.1L162.40 149.7L162.57 150.7L162.73 151.9L162.90 151.8L163.07 151.2L163.23 151.7L163.40 152.4L163.57 152.7L163.73 152.6L163.90 153.0L164.07 152.8L164.23 152.1L164.40 151.7L164.57 151.3L164.73 151.9L164.90 152.3L165.07 152.0L165.23 152.4L165.40 152.1L165.57 151.1L165.73 151.0L165.90 151.7L166.07 151.2L166.23 151.5L166.40 150.8L166.57 151.4L166.73 151.8L166.90 151.8L167.07 151.0L167.23 151.3L167.40 151.7L167.57 151.1L167.73 152.1L167.90 152.6L168.07 151.4L168.23 152.6L168.40 151.0L168.57 150.8L168.73 150.5L168.90 150.3L169.07 151.1L169.23 150.9L169.40 151.9L169.57 151.4L169.73 151.6L169.90 151.5L170.07 151.1L170.23 152.1L170.40 152.0L170.57 153.0L170.73 152.4L170.90 153.3L171.07 152.7L171.23 152.7L171.40 152.2L171.57 152.1L171.73 152.2L171.90 152.3L172.07 151.2L172.23 152.3L172.40 153.8L172.57 152.6L172.73 152.9L172.90 153.0L173.07 152.5L173.23 153.9L173.40 153.1L173.57 153.1L173.73 153.9L173.90 154.6L174.07 153.0L174.23 154.4L174.40 154.4L174.57 154.6L174.73 154.5L174.90 154.0L175.07 154.7L175.23 153.9L175.40 153.6L175.57 154.1L175.73 153.8L175.90 153.5L176.07 153.4L176.23 154.2L176.40 153.6L176.57 153.4L176.73 153.0L176.90 153.4L177.07 153.1L177.23 153.8L177.40 153.8L177.57 152.4L177.73 153.6L177.90 153.9L178.07 153.5L178.23 152.8L178.40 154.0L178.57 152.8L178.73 152.4L178.90 152.5L179.07 153.2L179.23 153.9L179.40 154.0L179.57 153.6L179.73 153.1L179.90 153.6L180.07 153.7L180.23 154.4L180.40 153.8L180.57 154.8L180.73 155.1L180.90 154.7L181.07 155.0L181.23 154.2L181.40 154.1L181.57 154.7L181.73 155.8L181.90 155.9L182.07 155.2L182.23 155.5L182.40 154.1L182.57 154.5L182.73 153.3L182.90 152.1L183.07 153.1L183.23 152.5L183.40 152.7L183.57 152.7L183.73 153.9L183.90 153.7L184.07 153.7L184.23 153.5L184.40 154.5L184.57 153.5L184.73 153.5L184.90 154.7L185.07 154.9L185.23 154.4L185.40 153.4L185.57 153.8L185.73 154.4L185.90 153.9L186.07 154.6L186.23 152.8L186.40 153.9L186.57 153.2L186.73 154.2L186.90 153.4L187.07 153.9L187.23 153.3L187.40 153.1L187.57 153.5L187.73 154.0L187.90 154.0L188.07 155.0L188.23 154.9L188.40 154.1L188.57 153.2L188.73 153.5L188.90 152.9L189.07 153.7L189.23 152.7L189.40 152.4L189.57 151.6L189.73 151.1L189.90 152.2L190.07 152.4L190.23 153.6L190.40 153.8L190.57 153.0L190.73 153.0L190.90 153.8L191.07 152.1L191.23 151.8L191.40 151.6L191.57 150.7L191.73 150.2L191.90 150.0L192.07 149.9L192.23 147.9L192.40 148.6L192.57 148.4L192.73 148.0L192.90 147.6L193.07 146.4L193.23 146.1L193.40 144.2L193.57 143.2L193.73 142.1L193.90 141.8L194.07 141.2L194.23 141.6L194.40 140.9L194.57 141.1L194.73 140.5L194.90 139.8L195.07 139.9L195.23 140.0L195.40 141.0L195.57 141.2L195.73 141.7L195.90 143.1L196.07 144.0L196.23 143.5L196.40 146.2L196.57 146.1L196.73 146.8L196.90 148.1L197.07 148.3L197.23 148.4L197.40 150.3L197.57 148.9L197.73 149.7L197.90 150.5L198.07 150.0L198.23 151.0L198.40 151.7L198.57 153.2L198.73 151.9L198.90 152.6L199.07 153.1L199.23 153.0L199.40 152.5L199.57 153.5L199.73 153.4L199.90 153.7L200.07 154.2" fill="none" stroke="#048004" stroke-width="2.40" stroke-linejoin="round"/>
<path d="M199.90 153.7L200.07 154.2L200.23 154.2L200.40 153.9L200.57 153.9L200.73 153.1L200.90 153.6L201.07 153.7L201.23 153.4L201.40 153.1L201.57 152.0L201.73 152.7L201.90 152.5L202.07 150.6L202.23 151.8L202.40 152.3L202.57 153.8L202.73 154.2L202.90 154.8L203.07 154.3L203.23 154.1L203.40 153.2L203.57 153.7L203.73 152.6L203.90 153.7L204.07 154.0L204.23 154.9L204.40 154.8L204.57 155.8L204.73 155.0L204.90 156.0L205.07 155.7L205.23 156.2L205.40 156.3L205.57 156.6L205.73 154.9L205.90 156.0L206.07 154.9L206.23 156.2L206.40 154.4L206.57 154.8L206.73 154.4L206.90 155.9L207.07 154.3L207.23 155.1L207.40 154.8L207.57 154.3L207.73 155.1L207.90 155.6L208.07 155.2L208.23 155.8L208.40 155.2L208.57 155.4L208.73 155.2L208.90 155.6L209.07 156.3L209.23 155.4L209.40 155.3L209.57 154.8L209.73 154.7L209.90 155.9L210.07 154.6L210.23 154.7L210.40 155.1L210.57 154.9L210.73 156.1L210.90 153.8L211.07 155.2L211.23 155.3L211.40 154.8L211.57 155.4L211.73 156.4L211.90 157.4L212.07 156.6L212.23 156.0L212.40 157.1L212.57 157.1L212.73 156.0L212.90 154.8L213.07 156.8L213.23 156.2L213.40 157.1L213.57 156.7L213.73 156.7L213.90 156.5L214.07 157.2L214.23 157.0L214.40 155.0L214.57 155.3L214.73 156.8L214.90 155.8L215.07 155.3L215.23 156.1L215.40 156.1L215.57 156.1L215.73 155.9L215.90 155.9L216.07 155.8L216.23 156.1L216.40 155.7L216.57 156.1L216.73 156.3L216.90 157.1L217.07 156.8L217.23 156.6L217.40 157.0L217.57 157.0L217.73 157.4L217.90 157.2L218.07 157.7L218.23 157.4L218.40 156.6L218.57 156.3L218.73 156.8L218.90 156.4L219.07 155.9L219.23 155.1L219.40 154.7L219.57 155.6L219.73 155.8L219.90 155.7L220.07 154.7L220.23 155.8L220.40 154.9L220.57 155.8L220.73 156.2L220.90 156.1L221.07 156.6L221.23 156.2L221.40 156.4L221.57 155.5L221.73 156.2L221.90 155.6L222.07 155.5L222.23 155.2L222.40 154.6L222.57 155.0L222.73 154.5L222.90 154.8L223.07 154.9L223.23 154.4L223.40 155.1L223.57 155.3L223.73 155.3L223.90 155.7L224.07 155.8L224.23 154.7L224.40 154.5L224.57 153.5L224.73 154.4L224.90 154.1L225.07 153.2L225.23 154.4L225.40 154.5L225.57 153.9L225.73 154.0L225.90 153.7L226.07 154.5L226.23 153.4L226.40 154.7L226.57 156.4L226.73 156.2L226.90 157.0L227.07 157.3L227.23 156.6L227.40 156.9L227.57 156.8L227.73 155.9L227.90 156.3L228.07 156.8L228.23 156.8L228.40 155.7L228.57 156.0L228.73 155.8L228.90 157.0L229.07 156.7L229.23 156.7L229.40 155.8L229.57 155.6L229.73 156.0L229.90 155.8L230.07 155.2L230.23 155.5L230.40 155.5L230.57 155.3L230.73 154.8L230.90 154.3L231.07 155.2L231.23 155.5L231.40 155.6L231.57 155.9L231.73 156.1L231.90 157.1L232.07 157.0L232.23 157.1L232.40 156.6L232.57 156.8L232.73 157.2L232.90 156.6L233.07 156.4L233.23 156.8L233.40 157.4L233.57 156.8L233.73 157.3L233.90 156.4L234.07 156.2L234.23 155.5L234.40 155.7L234.57 156.5L234.73 156.0L234.90 156.1L235.07 156.1L235.23 155.7L235.40 155.6L235.57 155.9L235.73 156.4L235.90 156.5L236.07 156.7L236.23 156.8L236.40 156.2L236.57 156.2L236.73 155.7L236.90 156.4L237.07 154.8L237.23 156.1L237.40 157.7L237.57 156.9L237.73 157.0L237.90 157.9L238.07 158.6L238.23 157.9L238.40 158.4L238.57 158.2L238.73 158.0L238.90 160.0L239.07 158.8L239.23 158.9L239.40 159.2L239.57 159.9L239.73 159.6L239.90 159.4L240.07 158.8L240.23 157.7L240.40 158.3L240.57 157.6L240.73 157.4L240.90 156.6L241.07 156.8L241.23 156.4L241.40 156.7L241.57 156.0L241.73 156.7L241.90 156.7L242.07 156.0L242.23 155.8L242.40 155.3L242.57 155.6L242.73 153.6L242.90 154.2L243.07 154.1L243.23 155.2L243.40 156.3L243.57 156.1L243.73 157.0L243.90 156.6L244.07 157.9L244.23 157.6L244.40 157.7L244.57 156.7L244.73 157.0L244.90 158.2L245.07 157.8L245.23 158.0L245.40 158.5L245.57 157.7L245.73 158.6L245.90 158.2L246.07 158.4L246.23 157.8L246.40 158.3L246.57 157.8L246.73 158.5L246.90 158.6L247.07 158.5L247.23 158.3L247.40 158.3L247.57 156.7L247.73 158.3L247.90 157.7L248.07 158.0L248.23 157.9L248.40 157.5L248.57 158.0L248.73 158.6L248.90 159.1L249.07 158.3L249.23 158.3L249.40 159.5L249.57 158.6L249.73 159.5L249.90 158.2L250.07 157.4L250.23 157.8L250.40 157.7L250.57 156.4L250.73 157.9L250.90 157.1L251.07 158.1L251.23 157.3L251.40 156.7L251.57 157.4L251.73 157.5L251.90 157.9L252.07 157.6L252.23 157.6L252.40 157.7L252.57 158.1L252.73 158.8L252.90 159.0L253.07 159.3L253.23 158.2L253.40 159.4L253.57 159.2L253.73 160.4L253.90 159.5L254.07 158.8L254.23 159.2L254.40 158.3L254.57 158.5L254.73 157.6L254.90 158.8L255.07 158.1L255.23 157.0L255.40 157.2L255.57 157.9L255.73 157.9L255.90 158.1L256.07 157.8L256.23 158.1L256.40 158.4L256.57 158.7L256.73 157.9L256.90 157.7L257.07 158.7L257.23 157.8L257.40 158.8L257.57 158.4L257.73 158.8L257.90 159.2L258.07 158.7L258.23 158.7L258.40 157.9L258.57 158.0L258.73 158.5L258.90 159.0L259.07 159.1L259.23 159.6L259.40 158.8L259.57 158.9L259.73 159.1L259.90 158.5L260.07 158.2L260.23 157.6L260.40 158.4L260.57 157.6L260.73 158.5L260.90 157.9L261.07 159.2L261.23 158.4L261.40 159.1L261.57 157.9L261.73 158.3L261.90 158.8L262.07 157.8L262.23 158.1L262.40 157.7L262.57 156.8L262.73 157.8L262.90 157.8L263.07 157.1L263.23 157.8L263.40 157.2L263.57 157.1L263.73 157.5L263.90 157.2L264.07 158.4L264.23 156.6L264.40 157.5L264.57 157.5L264.73 156.4L264.90 156.7L265.07 157.9L265.23 157.6L265.40 158.2L265.57 158.3L265.73 157.5L265.90 157.0L266.07 156.0L266.23 157.1L266.40 156.7L266.57 157.3L266.73 157.4L266.90 156.7L267.07 158.2L267.23 157.8L267.40 157.5L267.57 156.5L267.73 156.7L267.90 156.6L268.07 156.4L268.23 155.9L268.40 156.4L268.57 156.1L268.73 156.0L268.90 156.0L269.07 157.2L269.23 157.1L269.40 156.2L269.57 157.5L269.73 157.4L269.90 157.5L270.07 156.6" fill="none" stroke="#048004" stroke-width="2.20" stroke-linejoin="round"/>
<path d="M269.90 157.5L270.07 156.6L270.23 156.3L270.40 155.8L270.57 156.6L270.73 156.4L270.90 156.6L271.07 156.8L271.23 157.7L271.40 157.2L271.57 156.6L271.73 157.5L271.90 156.9L272.07 157.3L272.23 157.0L272.40 157.0L272.57 156.6L272.73 155.5L272.90 155.3L273.07 155.0L273.23 156.3L273.40 155.9L273.57 156.4L273.73 155.8L273.90 155.1L274.07 156.7L274.23 156.2L274.40 156.3L274.57 156.3L274.73 156.5L274.90 156.4L275.07 155.5L275.23 156.5L275.40 155.8L275.57 155.8L275.73 156.7L275.90 156.3L276.07 155.7L276.23 155.0L276.40 156.1L276.57 156.6L276.73 156.7L276.90 156.5L277.07 157.0L277.23 156.7L277.40 157.1L277.57 157.3L277.73 157.2L277.90 156.3L278.07 156.8L278.23 157.1L278.40 156.7L278.57 157.0L278.73 158.1L278.90 157.2L279.07 157.3L279.23 156.7L279.40 156.7L279.57 155.9L279.73 156.7L279.90 157.4L280.07 157.9L280.23 157.6L280.40 157.6L280.57 157.1L280.73 156.7L280.90 156.7L281.07 156.9L281.23 156.2L281.40 157.0L281.57 156.4L281.73 156.2L281.90 156.6L282.07 156.5L282.23 156.7L282.40 157.9L282.57 157.4L282.73 157.7L282.90 158.3L283.07 158.2L283.23 157.4L283.40 158.1L283.57 157.7L283.73 157.5L283.90 157.6L284.07 156.8L284.23 157.0L284.40 157.2L284.57 157.4L284.73 157.0L284.90 157.0L285.07 157.4L285.23 157.5L285.40 157.2L285.57 157.6L285.73 157.1L285.90 157.4L286.07 157.9L286.23 157.9L286.40 157.9L286.57 158.8L286.73 158.1L286.90 157.9L287.07 158.5L287.23 159.0L287.40 158.2L287.57 158.7L287.73 157.9L287.90 157.8L288.07 157.7L288.23 157.9L288.40 158.7L288.57 157.4L288.73 158.5L288.90 157.7L289.07 158.2L289.23 158.9L289.40 159.1L289.57 159.2L289.73 158.7L289.90 159.9L290.07 159.7L290.23 161.5L290.40 160.7L290.57 160.5L290.73 159.5L290.90 159.4L291.07 158.6L291.23 159.2L291.40 158.8L291.57 159.3L291.73 158.9L291.90 159.1L292.07 160.0L292.23 159.1L292.40 158.8L292.57 159.8L292.73 159.2L292.90 159.5L293.07 159.6L293.23 158.5L293.40 158.8L293.57 157.7L293.73 158.1L293.90 158.5L294.07 158.3L294.23 158.8L294.40 159.0L294.57 159.9L294.73 160.2L294.90 159.0L295.07 159.9L295.23 158.8L295.40 158.9L295.57 158.9L295.73 160.9L295.90 160.4L296.07 160.8L296.23 160.8L296.40 161.2L296.57 159.7L296.73 160.3L296.90 161.0L297.07 159.7L297.23 159.8L297.40 160.0L297.57 159.3L297.73 159.6L297.90 159.9L298.07 159.7L298.23 159.9L298.40 159.7L298.57 160.0L298.73 160.0L298.90 160.7L299.07 160.4L299.23 160.1L299.40 159.3L299.57 160.7L299.73 160.6L299.90 159.8L300.07 159.2L300.23 159.5L300.40 160.2L300.57 159.5L300.73 159.8L300.90 160.2L301.07 160.7L301.23 160.3L301.40 160.1L301.57 159.7L301.73 160.4L301.90 160.0L302.07 159.3L302.23 159.0L302.40 159.4L302.57 160.1L302.73 159.8L302.90 160.6L303.07 160.6L303.23 160.7L303.40 161.0L303.57 161.1L303.73 160.7L303.90 161.2L304.07 162.4L304.23 161.2L304.40 161.7L304.57 162.5L304.73 161.8L304.90 161.4L305.07 161.0L305.23 161.5L305.40 161.5L305.57 161.6L305.73 161.0L305.90 161.4L306.07 160.5L306.23 160.9L306.40 160.7L306.57 161.2L306.73 161.6L306.90 161.9L307.07 161.2L307.23 162.1L307.40 161.4L307.57 161.1L307.73 161.5L307.90 160.9L308.07 161.6L308.23 161.9L308.40 161.8L308.57 162.2L308.73 161.9L308.90 162.0L309.07 161.3L309.23 161.8L309.40 161.4L309.57 161.5L309.73 161.4L309.90 161.4L310.07 160.5L310.23 160.3L310.40 160.7L310.57 161.0L310.73 161.1L310.90 161.3L311.07 161.6L311.23 161.3L311.40 161.1L311.57 160.7L311.73 160.7L311.90 160.9L312.07 161.2L312.23 161.2L312.40 161.1L312.57 161.1L312.73 161.4L312.90 161.3L313.07 161.3L313.23 161.3L313.40 160.9L313.57 160.7L313.73 161.3L313.90 161.1L314.07 160.7L314.23 160.5L314.40 161.4L314.57 160.1L314.73 160.1L314.90 160.1L315.07 159.3L315.23 159.6L315.40 160.1L315.57 159.9L315.73 160.0L315.90 160.2L316.07 160.2L316.23 160.8L316.40 160.1L316.57 159.8L316.73 159.8L316.90 159.9L317.07 159.5L317.23 159.9L317.40 159.1L317.57 160.7L317.73 161.5L317.90 161.4L318.07 160.7L318.23 160.5L318.40 160.9L318.57 160.4L318.73 161.0L318.90 160.3L319.07 160.6L319.23 160.5L319.40 158.8L319.57 159.5L319.73 159.4L319.90 159.5L320.07 160.1L320.23 160.6L320.40 161.4L320.57 160.4L320.73 161.4L320.90 161.7L321.07 161.2L321.23 161.1L321.40 160.7L321.57 160.1L321.73 160.6L321.90 160.3L322.07 160.3L322.23 161.1L322.40 160.6L322.57 160.6L322.73 161.2L322.90 160.2L323.07 160.2L323.23 160.4L323.40 160.2L323.57 160.6L323.73 160.1L323.90 160.4L324.07 159.7L324.23 158.9L324.40 157.9L324.57 157.8L324.73 158.2L324.90 157.8L325.07 158.7L325.23 159.3L325.40 159.5L325.57 160.0L325.73 159.9L325.90 159.1L326.07 159.5L326.23 159.2L326.40 159.8L326.57 159.4L326.73 160.2L326.90 160.1L327.07 160.4L327.23 160.1L327.40 159.8L327.57 161.2L327.73 160.6L327.90 161.4L328.07 160.8L328.23 160.7L328.40 161.0L328.57 160.2L328.73 160.4L328.90 159.4L329.07 160.4L329.23 160.0L329.40 160.1L329.57 160.2L329.73 160.3L329.90 160.8L330.07 159.5L330.23 160.2L330.40 159.9L330.57 160.7L330.73 160.1L330.90 160.5L331.07 160.2L331.23 160.6L331.40 160.9L331.57 160.4L331.73 160.7L331.90 160.3L332.07 161.1L332.23 161.1L332.40 160.4L332.57 160.8L332.73 159.4L332.90 159.3L333.07 159.6L333.23 160.0L333.40 160.3L333.57 160.3L333.73 160.4L333.90 161.0L334.07 160.8L334.23 160.7L334.40 161.0L334.57 162.5L334.73 160.7L334.90 161.5L335.07 162.0L335.23 161.6L335.40 161.0L335.57 161.4L335.73 161.8L335.90 162.0L336.07 161.3L336.23 162.0L336.40 161.5L336.57 161.5L336.73 161.3L336.90 160.3L337.07 159.5L337.23 160.4L337.40 161.1L337.57 160.9L337.73 160.9L337.90 161.9L338.07 160.6L338.23 161.4L338.40 160.9L338.57 161.2L338.73 161.2L338.90 161.9L339.07 161.0L339.23 161.3L339.40 161.0L339.57 161.9L339.73 161.4L339.90 161.7L340.07 161.0L340.23 161.2L340.40 161.7L340.57 161.4L340.73 162.0L340.90 162.2L341.07 162.1L341.23 161.8L341.40 162.7L341.57 162.2L341.73 162.4L341.90 161.1L342.07 161.1L342.23 161.0L342.40 161.5L342.57 162.2L342.73 162.1L342.90 161.9L343.07 161.9L343.23 162.2L343.40 161.8L343.57 162.1L343.73 162.0L343.90 161.2L344.07 162.0L344.23 162.8L344.40 162.2L344.57 162.4L344.73 162.1L344.90 162.0L345.07 162.4L345.23 161.7L345.40 161.3L345.57 160.7L345.73 161.9L345.90 161.6L346.07 161.9L346.23 163.2L346.40 163.1L346.57 162.0L346.73 162.9L346.90 162.7L347.07 162.1L347.23 162.7L347.40 161.7L347.57 161.9L347.73 161.7L347.90 161.8L348.07 162.6L348.23 161.7L348.40 161.8L348.57 161.9L348.73 162.3L348.90 162.2L349.07 162.7L349.23 162.2L349.40 162.1L349.57 162.4L349.73 162.7L349.90 162.4L350.07 163.0L350.23 163.3L350.40 162.8L350.57 163.0L350.73 163.3L350.90 162.8L351.07 162.7L351.23 162.6L351.40 163.1L351.57 163.0" fill="none" stroke="#048004" stroke-width="2.00" stroke-linejoin="round"/>
<rect x="141.8" y="66" width="129" height="21.1" fill="none" stroke="#129bde" stroke-width="1.9" stroke-dasharray="7.8 6.75"/>
<g stroke="#000" fill="none">
<path d="M55.4 17.4V238.2M351.7 17.4V238.2" stroke-width="1.5"/>
<path d="M55.4 18.1H351.7M55.4 91.4H351.7M55.4 164.3H351.7" stroke-width="1.4"/>
<path d="M54.7 237.2H352.4" stroke-width="2.3"/>
<path d="M55.4 237.2v5.7M104.8 237.2v5.7M154.2 237.2v5.7M203.6 237.2v5.7M252.9 237.2v5.7M302.3 237.2v5.7M351.7 237.2v5.7" stroke-width="1.9"/>
<path d="M80.1 237.2v3.3M129.5 237.2v3.3M178.9 237.2v3.3M228.2 237.2v3.3M277.6 237.2v3.3M327.0 237.2v3.3" stroke-width="1.3"/>
</g>
<rect x="192.8" y="208.2" width="2.8" height="29.0" fill="#000"/>
<rect x="213.3" y="224.6" width="2.8" height="12.6" fill="#000"/>
<rect x="323.1" y="228.1" width="2.8" height="9.1" fill="#000"/>
<text x="55.5" y="256.4" font-size="12.6" text-anchor="middle" textLength="14.9" lengthAdjust="spacingAndGlyphs">10</text>
<text x="104.9" y="256.4" font-size="12.6" text-anchor="middle" textLength="14.9" lengthAdjust="spacingAndGlyphs">20</text>
<text x="154.3" y="256.4" font-size="12.6" text-anchor="middle" textLength="14.9" lengthAdjust="spacingAndGlyphs">30</text>
<text x="203.7" y="256.4" font-size="12.6" text-anchor="middle" textLength="14.9" lengthAdjust="spacingAndGlyphs">40</text>
<text x="253.0" y="256.4" font-size="12.6" text-anchor="middle" textLength="14.9" lengthAdjust="spacingAndGlyphs">50</text>
<text x="302.4" y="256.4" font-size="12.6" text-anchor="middle" textLength="14.9" lengthAdjust="spacingAndGlyphs">60</text>
<text x="351.8" y="256.4" font-size="12.6" text-anchor="middle" textLength="14.9" lengthAdjust="spacingAndGlyphs">70</text>
<text x="139.1" y="273.5" font-size="16.2" textLength="127.6" lengthAdjust="spacingAndGlyphs">Two-theta (deg)</text>
<text transform="translate(46.3 189.5) rotate(-90)" font-size="18" textLength="119.3" lengthAdjust="spacingAndGlyphs">Intensity (a.u.)</text>
<text x="248.6" y="33.6" font-size="15.5" textLength="94.2" lengthAdjust="spacingAndGlyphs">chitosan film</text>
<text x="227.4" y="109.5" font-size="15.5" textLength="118.7" lengthAdjust="spacingAndGlyphs">Ag/chitosan film</text>
<text x="203.3" y="182.6" font-size="15.5" textLength="144.4" lengthAdjust="spacingAndGlyphs">Ag JCPDS #04-0783</text>
<text x="75.9" y="33.05" font-size="12" textLength="75.5" lengthAdjust="spacingAndGlyphs">Air-scattering</text>
<text x="205.5" y="58.5" font-size="11.8" textLength="129.6" lengthAdjust="spacingAndGlyphs">Broad amorphous peak</text>
<text transform="translate(200.3 136.9) rotate(-90)" font-size="10.4" textLength="26.4" lengthAdjust="spacingAndGlyphs">(111)</text>
<text transform="translate(230.6 149.6) rotate(-90)" font-size="10.4" textLength="26.4" lengthAdjust="spacingAndGlyphs">(200)</text>
<text transform="translate(330.0 155.0) rotate(-90)" font-size="10.4" textLength="26.4" lengthAdjust="spacingAndGlyphs">(220)</text>
<text transform="translate(198.9 207.6) rotate(-90)" font-size="10.4" textLength="26.4" lengthAdjust="spacingAndGlyphs">(111)</text>
<text transform="translate(217.9 222.4) rotate(-90)" font-size="10.4" textLength="26.4" lengthAdjust="spacingAndGlyphs">(200)</text>
<text transform="translate(328.2 225.6) rotate(-90)" font-size="10.4" textLength="26.4" lengthAdjust="spacingAndGlyphs">(220)</text>
<path d="M77.0 35.0L70.2 38.1" stroke="#000" stroke-width="0.8" fill="none"/><path d="M65.2 40.4L69.6 36.7L70.8 39.5Z" fill="#000"/>
<path d="M203.6 55.1L196.6 58.7" stroke="#000" stroke-width="0.8" fill="none"/><path d="M190.9 61.7L195.7 57.2L197.4 60.3Z" fill="#000"/>
</svg></body></html>
